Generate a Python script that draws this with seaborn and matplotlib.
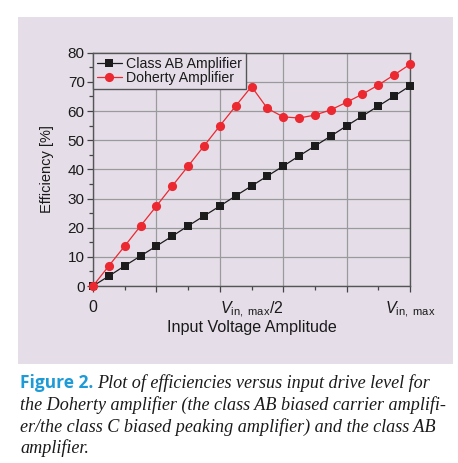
import numpy as np
import pandas as pd
import matplotlib
matplotlib.use("Agg")
import matplotlib.pyplot as plt
from matplotlib.patches import Rectangle
from matplotlib.ticker import MultipleLocator, FixedLocator
import seaborn as sns

# ---- data ----
drive_index = list(range(21))
class_ab = [0, 3.4, 6.9, 10.3, 13.7, 17.1, 20.6, 24.0, 27.4, 30.9, 34.3,
            37.7, 41.1, 44.6, 48.0, 51.4, 54.9, 58.3, 61.7, 65.1, 68.6]
doherty = [0, 6.9, 13.7, 20.6, 27.4, 34.3, 41.1, 48.0, 54.9, 61.7, 68.4,
           60.9, 58.0, 57.6, 58.6, 60.4, 63.0, 65.8, 68.9, 72.4, 76.0]
x_tick_pos = [0, 10, 20]
x_tick_labels = ["0", r"$V_{\mathrm{in,\ max}}/2$", r"$V_{\mathrm{in,\ max}}$"]
series_names = ["Class AB Amplifier", "Doherty Amplifier"]

df = pd.DataFrame({
    "x": drive_index * 2,
    "eff": class_ab + doherty,
    "series": [series_names[0]] * 21 + [series_names[1]] * 21,
})

sns.set_theme(style="white")
plt.rcParams["font.family"] = ["Liberation Sans", "DejaVu Sans"]
plt.rcParams["mathtext.fontset"] = "custom"
plt.rcParams["mathtext.rm"] = "Liberation Sans"
plt.rcParams["mathtext.it"] = "Liberation Sans:italic"

panel = "#E5DEE9"
fig = plt.figure(figsize=(4.58, 4.63), dpi=100, facecolor="white")
fig.patches.append(Rectangle((18 / 458, 1 - 364 / 463), (453 - 18) / 458, (364 - 17) / 463,
                             transform=fig.transFigure, facecolor=panel, edgecolor="none", zorder=-5))

ax = fig.add_axes([93 / 458, 1 - 286 / 463, (410 - 93) / 458, (286 - 52.7) / 463])
ax.set_zorder(2)
ax.set_facecolor(panel)

palette = {series_names[0]: "#1c1c1c", series_names[1]: "#EC2830"}
markers = {series_names[0]: "s", series_names[1]: "o"}
sizes = {series_names[0]: 5.6, series_names[1]: 6.6}
for name in series_names:
    sub = df[df["series"] == name]
    sns.lineplot(data=sub, x="x", y="eff", ax=ax, color=palette[name], marker=markers[name],
                 markersize=sizes[name], markeredgewidth=0, linewidth=0.9, label=name,
                 clip_on=False, zorder=3)

ax.set_xlim(0, 20)
ax.set_ylim(0, 80)
ax.yaxis.set_major_locator(MultipleLocator(10))
ax.yaxis.set_minor_locator(MultipleLocator(5))

ax.grid(True, which="major", color="#9a9a9a", linewidth=0.9)
ax.set_axisbelow(True)

major_pos = list(range(0, 21, 4))
ax.set_xticks(major_pos)
ax.set_xticklabels([""] * len(major_pos))
ax.xaxis.set_minor_locator(FixedLocator([2, 6, 10, 14, 18]))
for p, lab in zip(x_tick_pos, x_tick_labels):
    ax.text(p, -0.06, lab, transform=ax.get_xaxis_transform(), ha="center", va="top",
            fontsize=11.5, color="#1a1a1a")

ax.tick_params(axis="both", which="major", direction="out", length=4.5, width=0.9,
               color="#444444", labelsize=11, labelcolor="#1a1a1a", pad=1.5,
               bottom=True, left=True, top=False, right=False)
ax.tick_params(axis="both", which="minor", direction="out", length=3, width=0.9,
               color="#444444", bottom=True, left=True, top=False, right=False)

for s in ax.spines.values():
    s.set_color("#555555")
    s.set_linewidth(1.0)

ax.set_xlabel("Input Voltage Amplitude", fontsize=11.6, color="#1a1a1a", labelpad=18)
ax.set_ylabel("Efficiency [%]", fontsize=10.5, color="#1a1a1a", labelpad=10)

leg = ax.legend(loc="upper left", borderaxespad=0, frameon=True, fancybox=False,
                fontsize=10.2, handlelength=1.75, handletextpad=0.3, borderpad=0.28,
                labelspacing=0.0, edgecolor="#555555", facecolor=panel, framealpha=1)
leg.get_frame().set_linewidth(1.0)
for t in leg.get_texts():
    t.set_color("#1a1a1a")

# caption
fig.text(20 / 458, 1 - 388 / 463, "Figure 2.", fontsize=12.5, fontweight="bold",
         color="#1E9AD6", family=["Open Sans", "DejaVu Sans"], ha="left", va="baseline")
fig.text(97 / 458, 1 - 388 / 463, "Plot of efficiencies versus input drive level for",
         fontsize=13.1, style="italic", family=["Liberation Serif", "DejaVu Serif"],
         color="#1a1a1a", ha="left", va="baseline")
cap_lines = ["the Doherty amplifier (the class AB biased carrier amplifi-",
             "er/the class C biased peaking amplifier) and the class AB",
             "amplifier."]
for i, line in enumerate(cap_lines):
    fig.text(20 / 458, 1 - (410 + 21.5 * i) / 463, line, fontsize=13.1, style="italic",
             family=["Liberation Serif", "DejaVu Serif"], color="#1a1a1a",
             ha="left", va="baseline")

fig.savefig("out.png", dpi=100, facecolor="white")
